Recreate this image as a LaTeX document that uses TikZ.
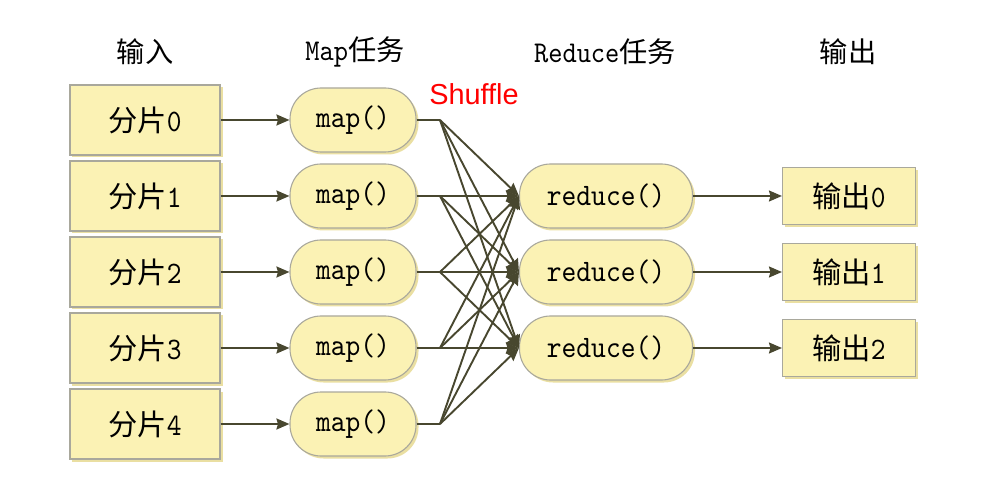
\documentclass[tikz,border=0pt]{standalone}
\usepackage{fontspec}
\usetikzlibrary{arrows.meta,shadows}
\newfontfamily\cjk{Noto Sans CJK SC}[Scale=1.05]
\newfontfamily\lmt{lmmono10-regular.otf}[Scale=1.12, FakeStretch=0.9]
\newfontfamily\sansred{Liberation Sans}
\newcommand{\myzh}[1]{{\cjk #1}}
\newcommand{\mylat}[1]{{\lmt #1}}
\definecolor{boxfill}{HTML}{FBF2B4}
\definecolor{boxline}{HTML}{A9A89C}
\definecolor{shade}{HTML}{EADFA2}
\definecolor{arr}{HTML}{48472F}
\tikzset{
  base/.style={draw=boxline, line width=1.1bp, fill=boxfill, inner sep=0pt,
    drop shadow={shadow xshift=2.5bp, shadow yshift=-2.5bp, fill=shade, opacity=1},
    font=\fontsize{28}{32}\selectfont},
  inbox/.style={base, minimum width=150bp, minimum height=70bp},
  mappill/.style={base, rounded corners=31bp, minimum width=126bp, minimum height=64bp},
  redpill/.style={base, rounded corners=31bp, minimum width=173bp, minimum height=64bp},
  outbox/.style={base, minimum width=133bp, minimum height=57bp},
  head/.style={font=\fontsize{27}{30}\selectfont, inner sep=0pt},
  conn/.style={draw=arr, line width=1.9bp},
  arrow/.style={conn, -{Stealth[length=13bp,width=11bp,inset=1.5bp]}}
}
\begin{document}
\begin{tikzpicture}[x=1bp,y=-1bp]
\useasboundingbox (0,0) rectangle (1000,498);
% headers
\node[head] (h1) at (145,52) {\myzh{输入}};
\node[head] (h2) at (355,52) {\mylat{Map}\myzh{任务}};
\node[head] (h3) at (605,52) {\mylat{Reduce}\myzh{任务}};
\node[head] (h4) at (848,52) {\myzh{输出}};
\node[font=\sansred\fontsize{29}{32}\selectfont, text=red, inner sep=0pt] (sh) at (474,94) {Shuffle};
% input and map
\foreach \i/\y in {0/120,1/196,2/272,3/348,4/424}{
  \node[inbox] (in\i) at (145,\y) {\myzh{分片}\mylat{\i}};
  \node[mappill] (m\i) at (353,\y) {\mylat{map()}};
  \coordinate (j\i) at (440,\y);
  \draw[arrow] (in\i) -- (m\i);
}
% reduce and output
\foreach \i/\y in {0/196,1/272,2/348}{
  \node[redpill] (r\i) at (606,\y) {\mylat{reduce()}};
  \node[outbox] (o\i) at (849,\y) {\myzh{输出}\mylat{\i}};
  \draw[arrow] (r\i) -- (o\i);
}
% shuffle connections
\draw[conn] (m0.east) -- (j0);
\draw[conn] (m4.east) -- (j4);
\draw[arrow] (m1.east) -- (r0.west);
\draw[arrow] (m2.east) -- (r1.west);
\draw[arrow] (m3.east) -- (r2.west);
\foreach \a/\b in {0/0,0/1,0/2,1/1,1/2,2/0,2/2,3/0,3/1,4/0,4/1,4/2}{
  \draw[arrow] (j\a) -- (r\b.west);
}
\end{tikzpicture}
\end{document}
